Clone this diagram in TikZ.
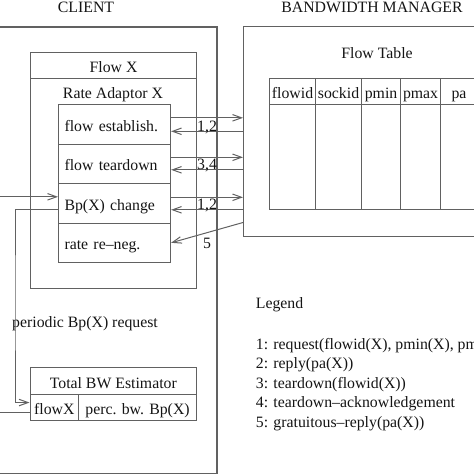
\documentclass[tikz,border=0pt]{standalone}
\usepackage{fontspec}
\setmainfont{Liberation Serif}
\usetikzlibrary{arrows.meta}
\definecolor{lc}{gray}{0.38}
\definecolor{tc}{gray}{0.08}
\begin{document}
\begin{tikzpicture}[x=1pt,y=-1pt,
  font=\fontsize{15.8}{19}\selectfont, text=tc,
  box/.style={draw=lc, line width=1.1pt, inner sep=0pt, anchor=north west,
              text height=15pt, text depth=1pt},
  rowbox/.style={box, minimum height=39.5, text width=100pt, align=left, inner xsep=6pt},
  lbl/.style={anchor=base, inner sep=0pt},
  lbw/.style={anchor=base west, inner sep=0pt},
  arr/.style={draw=lc, line width=1pt, -{Straight Barb[length=9pt,width=6.5pt]}},
  ln/.style={draw=lc, line width=1pt}]
\useasboundingbox (0,0) rectangle (474,474);

% titles
\node[lbl] (tcl) at (86,12) {CLIENT};
\node[lbl] (tbm) at (372,12.5) {BANDWIDTH MANAGER};

% main boxes
\node[box, minimum width=236, minimum height=446.5, line width=2.2pt] (client) at (-20,26) {};
\node[box, minimum width=277, minimum height=210] (bm) at (243,26) {};

% Flow X
\node[box, minimum width=166, minimum height=26] (fxt) at (30,52) {Flow X};
\node[box, minimum width=166, minimum height=210] (fxb) at (30,78) {};
\node[lbl] (ra) at (113,98.5) {Rate Adaptor X};

\node[rowbox] (r1) at (58,104) {flow establish.};
\node[rowbox] (r2) at (58,143.5) {flow teardown};
\node[rowbox] (r3) at (58,183) {Bp(X) change};
\node[rowbox] (r4) at (58,222.5) {rate re--neg.};

% Flow table
\node[lbl] (ft) at (377,58.3) {Flow Table};
\node[box, minimum width=46, minimum height=26] (h1) at (269,78) {flowid};
\node[box, minimum width=46, minimum height=26] (h2) at (315,78) {sockid};
\node[box, minimum width=39, minimum height=26] (h3) at (361,78) {pmin};
\node[box, minimum width=40, minimum height=26] (h4) at (400,78) {pmax};
\node[box, minimum width=37, minimum height=26] (h5) at (440,78) {pa};
\node[box, minimum width=46, minimum height=105] (b1) at (269,104) {};
\node[box, minimum width=46, minimum height=105] (b2) at (315,104) {};
\node[box, minimum width=39, minimum height=105] (b3) at (361,104) {};
\node[box, minimum width=40, minimum height=105] (b4) at (400,104) {};
\node[box, minimum width=37, minimum height=105] (b5) at (440,104) {};

% messages between client and manager
\draw[arr] ([yshift=6.5pt]r1.east) -- ([yshift=6.5pt]r1.east -| bm.west);
\draw[arr] ([yshift=-7pt]r1.east -| bm.west) -- node[lbl] {1,2} ([yshift=-7pt]r1.east);
\draw[arr] ([yshift=6.5pt]r2.east) -- ([yshift=6.5pt]r2.east -| bm.west);
\draw[arr] ([yshift=-6pt]r2.east -| bm.west) -- node[lbl] {3,4} ([yshift=-6pt]r2.east);
\draw[arr] ([yshift=6pt]r3.east) -- ([yshift=6pt]r3.east -| bm.west);
\draw[arr] ([yshift=-6.5pt]r3.east -| bm.west) -- node[lbl] {1,2} ([yshift=-6.5pt]r3.east);
\draw[arr] (r4.north -| bm.west) -- (r4.east);
\node[lbl] (n5) at (207,248) {5};

% Total BW estimator
\node[box, minimum width=166.5, minimum height=27] (tbw) at (29.5,367) {Total BW Estimator};
\node[box, minimum width=48.5, minimum height=26] (fw) at (29.5,394) {flowX};
\node[box, minimum width=118, minimum height=26] (pb) at (78,394) {perc. bw. Bp(X)};

% periodic request loop
\node[lbw] (pr) at (12,327) {periodic Bp(X) request};
\coordinate (bend) at (15,300);
\draw[arr] ([yshift=6.5pt]r3.west -| client.west) -- ([yshift=6.5pt]r3.west);
\draw[arr] ([yshift=-6.5pt]r3.west) -| (bend) |- ([yshift=5pt]fw.west);
\draw[ln] ([yshift=-5pt]fw.west) -- ([yshift=-5pt]fw.west -| client.west);

% legend
\node[lbw] (lg) at (255.7,308.3) {Legend};
\node[lbw] (l1) at (255.7,349.3) {1: request(flowid(X), pmin(X), pmax(X))};
\node[lbw] (l2) at (255.7,368.5) {2: reply(pa(X))};
\node[lbw] (l3) at (255.7,388) {3: teardown(flowid(X))};
\node[lbw] (l4) at (255.7,407.7) {4: teardown--acknowledgement};
\node[lbw] (l5) at (255.7,427.5) {5: gratuitous--reply(pa(X))};
\end{tikzpicture}
\end{document}
